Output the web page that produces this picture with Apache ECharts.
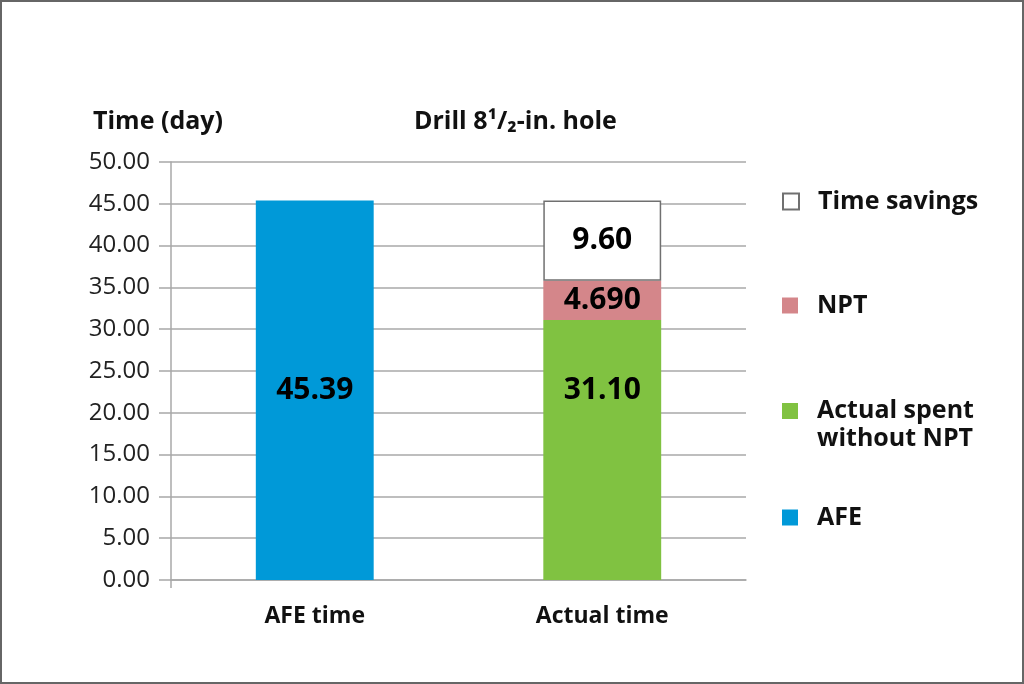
<!DOCTYPE html>
<html>
<head>
<meta charset="utf-8">
<script src="https://cdn.jsdelivr.net/npm/echarts@6/dist/echarts.min.js"></script>
<style>
  html, body { margin: 0; padding: 0; background: #fff; }
  #chart { width: 1024px; height: 684px; }
  #frame { position: absolute; left: 0; top: 0; width: 1024px; height: 684px; box-sizing: border-box; border: 2px solid #666; pointer-events: none; }
</style>
</head>
<body>
<div id="chart"></div>
<div id="frame"></div>
<script>
const categories = ['AFE time', 'Actual time'];
const afeValues = [45.39, '-'];
const actualWithoutNptValues = ['-', 31.10];
const nptValues = ['-', 4.69];
const timeSavingsValues = ['-', 9.60];
const yTicks = { min: 0, max: 50, interval: 5 };
const yAxisTitle = 'Time (day)';
const chartTitle = 'Drill 8\u00B9/\u2082-in. hole';

const FONT = '"Open Sans", "Noto Sans", sans-serif';
const AXIS_GREY = '#a8a8a8';
const chart = echarts.init(document.getElementById('chart'));

function lbl(decimals, extra) {
  return Object.assign({
    show: true,
    position: 'inside',
    color: '#000',
    fontFamily: FONT,
    fontWeight: 'bold',
    fontSize: 30,
    formatter: p => Number(p.value).toFixed(decimals)
  }, extra || {});
}

const legendBase = {
  orient: 'vertical',
  left: 782,
  padding: 0,
  itemWidth: 16,
  itemHeight: 16,
  icon: 'rect',
  selectedMode: false,
  textStyle: { fontFamily: FONT, fontWeight: 'bold', fontSize: 25, color: '#111', padding: [0, 0, 0, 14] }
};

chart.setOption({
  animation: false,
  textStyle: { fontFamily: FONT },
  title: [
    { text: yAxisTitle, left: 93, top: 109, padding: 0,
      textStyle: { fontFamily: FONT, fontWeight: 'bold', fontSize: 25, color: '#111' } },
    { text: chartTitle, left: 414, top: 109, padding: 0,
      textStyle: { fontFamily: FONT, fontWeight: 'bold', fontSize: 25, color: '#111' } }
  ],
  legend: [
    Object.assign({}, legendBase, { top: 189, data: ['Time savings'] }),
    Object.assign({}, legendBase, { top: 293, data: ['NPT'] }),
    Object.assign({}, legendBase, {
      top: 369, data: ['Actual spent without NPT'],
      formatter: () => ' \nActual spent\nwithout NPT',
      textStyle: Object.assign({}, legendBase.textStyle, { lineHeight: 28 })
    }),
    Object.assign({}, legendBase, { top: 505, data: ['AFE'] })
  ],
  grid: { left: 171, right: 278, top: 162, bottom: 104, containLabel: false },
  xAxis: {
    type: 'category',
    data: categories,
    axisLine: { show: true, lineStyle: { color: AXIS_GREY, width: 1.5 } },
    axisTick: { show: false },
    axisLabel: { fontFamily: FONT, fontWeight: 'bold', fontSize: 23, color: '#111', margin: 25 }
  },
  yAxis: {
    type: 'value',
    min: yTicks.min, max: yTicks.max, interval: yTicks.interval,
    axisLine: { show: true, lineStyle: { color: AXIS_GREY, width: 1.5 } },
    axisTick: { show: true, length: 12, lineStyle: { color: AXIS_GREY, width: 1.5 } },
    splitLine: { show: true, lineStyle: { color: AXIS_GREY, width: 1.5 } },
    axisLabel: { fontFamily: FONT, fontSize: 24, color: '#222', margin: 21,
      formatter: v => v.toFixed(2) }
  },
  series: [
    { name: 'AFE', type: 'bar', stack: 'total', barWidth: '41%', data: afeValues,
      itemStyle: { color: '#0099d8' }, label: lbl(2) },
    { name: 'Actual spent without NPT', type: 'bar', stack: 'total', barWidth: '41%', data: actualWithoutNptValues,
      itemStyle: { color: '#80c241' }, label: lbl(2, { position: ['50%', '27%'], align: 'center', verticalAlign: 'middle' }) },
    { name: 'NPT', type: 'bar', stack: 'total', barWidth: '41%', data: nptValues,
      itemStyle: { color: '#d4868a' }, label: lbl(3) },
    { name: 'Time savings', type: 'bar', stack: 'total', barWidth: '41%', data: timeSavingsValues,
      itemStyle: { color: '#ffffff', borderColor: '#707070', borderWidth: 1.5 }, label: lbl(2) }
  ]
});

// small downward extension of the value axis below the category axis (left end only)
const gridRect = chart.getModel().getComponent('grid').coordinateSystem.getRect();
chart.setOption({
  graphic: [{
    type: 'line', silent: true,
    shape: { x1: gridRect.x, y1: gridRect.y + gridRect.height, x2: gridRect.x, y2: gridRect.y + gridRect.height + 8 },
    style: { stroke: AXIS_GREY, lineWidth: 1.5 }
  }]
});
</script>
</body>
</html>
